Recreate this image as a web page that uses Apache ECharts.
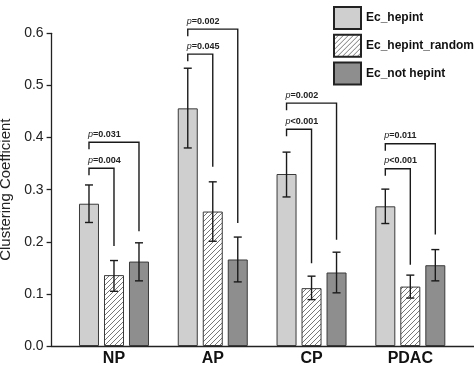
<!DOCTYPE html>
<html><head><meta charset="utf-8">
<script src="https://cdn.jsdelivr.net/npm/echarts@6/dist/echarts.min.js"></script>
<style>html,body{margin:0;padding:0;background:#fff}#c{width:474px;height:366px}</style>
</head><body><div id="c"></div>
<script>
// ---- data ----
var categories = ['NP', 'AP', 'CP', 'PDAC'];
var seriesNames = ['Ec_hepint', 'Ec_hepint_random', 'Ec_not hepint'];
var hepint = [0.273, 0.456, 0.330, 0.268];
var hepintRandom = [0.136, 0.258, 0.111, 0.114];
var notHepint = [0.162, 0.166, 0.141, 0.155];
var hepintErrLow = [0.237, 0.380, 0.286, 0.235];
var hepintErrHigh = [0.309, 0.533, 0.372, 0.301];
var randomErrLow = [0.105, 0.201, 0.089, 0.092];
var randomErrHigh = [0.164, 0.315, 0.134, 0.136];
var notErrLow = [0.125, 0.123, 0.102, 0.125];
var notErrHigh = [0.198, 0.209, 0.180, 0.185];
var yTicks = [0.0, 0.1, 0.2, 0.3, 0.4, 0.5, 0.6];
// brackets: category index, from series, to series, bracket level, right leg end, label
var bracketCat = [0, 0, 1, 1, 2, 2, 3, 3];
var bracketFrom = [0, 0, 0, 0, 0, 0, 0, 0];
var bracketTo = [2, 1, 2, 1, 2, 1, 2, 1];
var bracketLevel = [0.391, 0.341, 0.608, 0.560, 0.466, 0.416, 0.388, 0.340];
var bracketEnd = [0.220, 0.192, 0.236, 0.344, 0.204, 0.159, 0.214, 0.156];
var bracketLabel = ['=0.031', '=0.004', '=0.002', '=0.045', '=0.002', '<0.001', '=0.011', '<0.001'];

// ---- style ----
var BAR_W = 20, BAR_STEP = 25;
var FONT = '"Liberation Sans", Arial, sans-serif';
var hatch = document.createElement('canvas');
hatch.width = 5; hatch.height = 5;
(function () {
  var g = hatch.getContext('2d');
  g.fillStyle = '#ffffff'; g.fillRect(0, 0, 5, 5);
  g.strokeStyle = '#666666'; g.lineWidth = 0.9;
  g.beginPath();
  g.moveTo(-1, 6); g.lineTo(6, -1);
  g.moveTo(-4, 4); g.lineTo(4, -4);
  g.moveTo(1, 9); g.lineTo(9, 1);
  g.stroke();
})();
var fills = ['#cfcfcf', {image: hatch, repeat: 'repeat'}, '#8e8e8e'];
var values = [hepint, hepintRandom, notHepint];
var errLow = [hepintErrLow, randomErrLow, notErrLow];
var errHigh = [hepintErrHigh, randomErrHigh, notErrHigh];

var chart = echarts.init(document.getElementById('c'), null, {renderer: 'canvas'});
var series = [];
seriesNames.forEach(function (n, i) {
  series.push({
    name: n, type: 'bar', data: values[i], barWidth: BAR_W, barGap: '25%',
    itemStyle: {color: fills[i], borderColor: '#3a3a3a', borderWidth: 1},
    xAxisIndex: 0, yAxisIndex: 0, z: 2
  });
});
seriesNames.forEach(function (n, i) {
  var d = categories.map(function (c, k) { return [k, errLow[i][k], errHigh[i][k]]; });
  series.push({
    type: 'custom', name: n + '_err', data: d, xAxisIndex: 0, yAxisIndex: 0, z: 5,
    renderItem: function (params, api) {
      var x = api.coord([api.value(0), 0])[0] + (i - 1) * BAR_STEP;
      var lo = api.coord([api.value(0), api.value(1)])[1];
      var hi = api.coord([api.value(0), api.value(2)])[1];
      var st = {stroke: '#1a1a1a', lineWidth: 1.4};
      return {type: 'group', children: [
        {type: 'line', shape: {x1: x, y1: lo, x2: x, y2: hi}, style: st},
        {type: 'line', shape: {x1: x - 4, y1: lo, x2: x + 4, y2: lo}, style: st},
        {type: 'line', shape: {x1: x - 4, y1: hi, x2: x + 4, y2: hi}, style: st}
      ]};
    }
  });
});
series.push({
  type: 'custom', name: 'brackets', xAxisIndex: 0, yAxisIndex: 0, z: 6, clip: false,
  data: bracketCat.map(function (c, k) { return [c, bracketFrom[k], bracketTo[k], bracketLevel[k], bracketEnd[k]]; }),
  renderItem: function (params, api) {
    var c = api.value(0);
    var cx = api.coord([c, 0])[0];
    var xl = cx + (api.value(1) - 1) * BAR_STEP;
    var xr = cx + (api.value(2) - 1) * BAR_STEP;
    var yl = api.coord([c, api.value(3)])[1];
    var ye = api.coord([c, api.value(4)])[1];
    return {type: 'group', children: [
      {type: 'polyline', shape: {points: [[xl, yl + 7], [xl, yl], [xr, yl], [xr, ye]]},
        style: {stroke: '#1a1a1a', lineWidth: 1.4, fill: null}},
      {type: 'text', x: xl - 1, y: yl - 8, style: {
        text: '{i|p}{n|' + bracketLabel[params.dataIndex] + '}', align: 'left', verticalAlign: 'middle',
        rich: {
          i: {fontStyle: 'italic', fontSize: 9, fontFamily: FONT, fill: '#222', fontWeight: 'normal'},
          n: {fontSize: 9, fontFamily: FONT, fill: '#222', fontWeight: 'bold'}
        }
      }}
    ]};
  }
});

chart.setOption({
  animation: false,
  backgroundColor: '#ffffff',
  legend: {
    data: seriesNames, orient: 'vertical', left: 328, top: 1,
    icon: 'rect',
    itemWidth: 27, itemHeight: 22, itemGap: 3.7,
    itemStyle: {borderColor: '#222', borderWidth: 2},
    textStyle: {fontSize: 12, fontWeight: 'bold', color: '#111', fontFamily: FONT},
    selectedMode: false
  },
  grid: [
    {left: 64.6, right: 14.3, top: 33.3, bottom: 20, containLabel: false, outerBoundsMode: 'none'},
    {left: 51.6, right: 0, top: 33.3, bottom: 20, containLabel: false, outerBoundsMode: 'none'}
  ],
  xAxis: [
    {type: 'category', data: categories, gridIndex: 0,
      axisLine: {show: false}, axisTick: {show: false},
      axisLabel: {fontSize: 16, fontWeight: 'bold', color: '#111', fontFamily: FONT, margin: 5}},
    {type: 'value', gridIndex: 1, min: 0, max: 1,
      axisLine: {show: true, lineStyle: {color: '#222', width: 1.4}},
      axisTick: {show: false}, axisLabel: {show: false}, splitLine: {show: false}}
  ],
  yAxis: [
    {type: 'value', gridIndex: 0, min: yTicks[0], max: yTicks[yTicks.length - 1], interval: 0.1, offset: 13,
      name: 'Clustering Coefficient', nameLocation: 'middle', nameGap: 35, nameRotate: 90,
      nameTextStyle: {fontSize: 15, color: '#222', fontFamily: FONT},
      axisLine: {show: true, lineStyle: {color: '#222', width: 1.3}},
      axisTick: {show: true, inside: false, length: 5, lineStyle: {color: '#222', width: 1.3}},
      axisLabel: {fontSize: 14, color: '#222', fontFamily: FONT, margin: 8,
        formatter: function (v) { return v.toFixed(1); }},
      splitLine: {show: false}},
    {type: 'value', gridIndex: 1, show: false, min: 0, max: 1}
  ],
  series: series
});
</script></body></html>
